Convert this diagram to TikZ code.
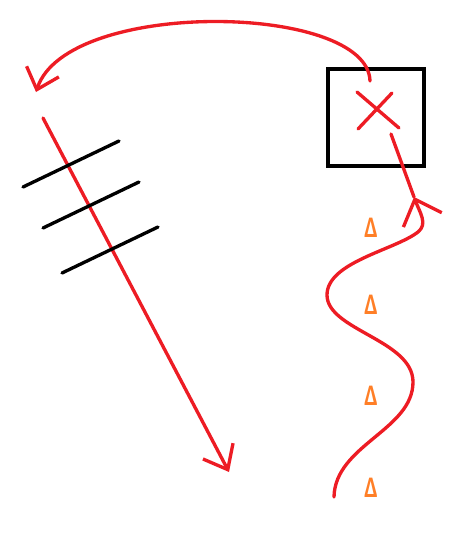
\documentclass[tikz,border=0pt]{standalone}
\usepackage{fontspec}
\newfontfamily\deltafont{Carlito}
\usetikzlibrary{positioning, arrows.meta}
\definecolor{penred}{RGB}{237,28,36}
\definecolor{penorange}{RGB}{255,127,39}

\begin{document}
\begin{tikzpicture}[
    x=0.02cm, y=-0.02cm,
    pen/.style={draw=penred, line width=1.9pt, line cap=round, line join=round},
    hatch/.style={draw=black, line width=1.9pt, line cap=round},
    frame/.style={rectangle, draw=black, line width=2.3pt, minimum width=1.91cm, minimum height=1.94cm, inner sep=0pt},
    delta/.style={text=penorange, inner sep=0pt, xscale=0.78, transform shape, font=\deltafont\bfseries\fontsize{17}{17}\selectfont}
]
    \useasboundingbox (0,0) rectangle (474,551);

    % Box with the cross
    \node[frame] (box) at (376,117.5) {};
    \coordinate (cross-1a) at (357,92);
    \coordinate (cross-1b) at (399,128);
    \coordinate (cross-2a) at (358,129);
    \coordinate (cross-2b) at (392,93);
    \draw[pen] (cross-1a) -- (cross-1b);
    \draw[pen] (cross-2a) -- (cross-2b);

    % Return arc
    \coordinate (arc-start) at (370,81);
    \coordinate (arc-end) at (36,92);
    \draw[pen, -{Straight Barb[length=0.38cm, width=0.68cm]}]
        (arc-start) .. controls (368,3) and (67,-2) .. (arc-end);

    % Diagonal ray
    \coordinate (ray-start) at (43,118);
    \coordinate (ray-end) at (229,472);
    \draw[pen, -{Straight Barb[length=0.42cm, width=0.68cm]}] (ray-start) -- (ray-end);

    % Hatch lines
    \foreach \i/\dx/\dy in {1/0/0, 2/20/41, 3/39/86} {
        \coordinate (hatch-\i-a) at (23+\dx, 187+\dy);
        \coordinate (hatch-\i-b) at (119+\dx, 141+\dy);
        \draw[hatch] (hatch-\i-a) -- (hatch-\i-b);
    }

    % Wave
    \coordinate (wave-start) at (334,497);
    \coordinate (wave-right) at (413,382);
    \coordinate (wave-left) at (327,295);
    \coordinate (wave-top) at (418,232);
    \coordinate (wave-tip) at (414,197);
    \coordinate (wave-end) at (391,134);
    \draw[pen, -{Straight Barb[length=0.44cm, width=0.82cm]}]
        (wave-start) .. controls (335,445) and (413,430) .. (wave-right)
        .. controls (413,340) and (327,330) .. (wave-left)
        .. controls (327,262) and (395,250) .. (wave-top)
        .. controls (428,224) and (420,213) .. (wave-tip);
    \draw[pen] (wave-tip) -- (wave-end);

    % Deltas
    \foreach \i/\y in {1/228, 2/305, 3/396, 4/488} {
        \node[delta] (delta-\i) at (371,\y) {Δ};
    }

\end{tikzpicture}
\end{document}
